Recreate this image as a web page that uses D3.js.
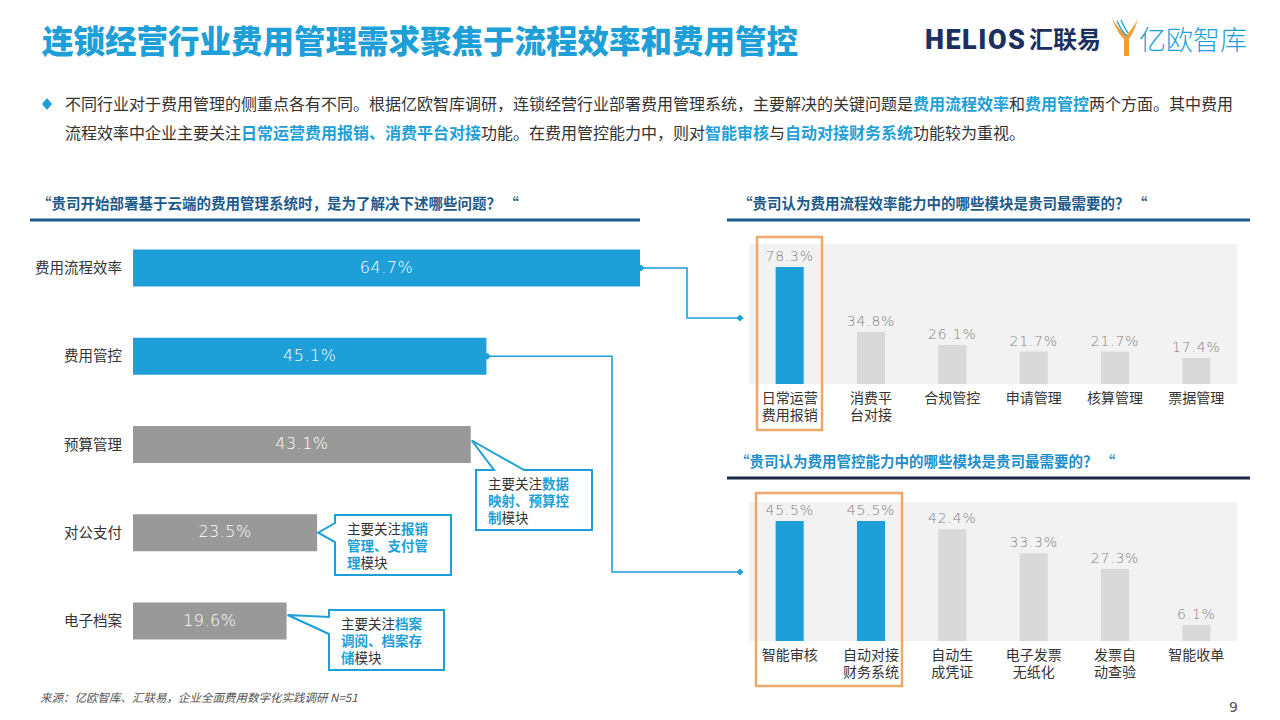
<!DOCTYPE html>
<meta charset="utf-8">
<script src="https://cdn.jsdelivr.net/npm/d3@7/dist/d3.min.js"></script>
<style>
body { margin: 0; background: #fff; }
text { font-family: "Noto Sans CJK SC", "Noto Sans", sans-serif; }
.num { font-family: "DejaVu Sans", "Open Sans", sans-serif; }
</style>
<body>
<script>

// main question: which problems
var mainCats = ["费用流程效率", "费用管控", "预算管理", "对公支付", "电子档案"];
var mainVals = [64.7, 45.1, 43.1, 23.5, 19.6];

// process efficiency modules
var effCats = [["日常运营", "费用报销"], ["消费平", "台对接"], ["合规管控"], ["申请管理"], ["核算管理"], ["票据管理"]];
var effVals = [78.3, 34.8, 26.1, 21.7, 21.7, 17.4];

// cost control modules
var ctrlCats = [["智能审核"], ["自动对接", "财务系统"], ["自动生", "成凭证"], ["电子发票", "无纸化"], ["发票自", "动查验"], ["智能收单"]];
var ctrlVals = [45.5, 45.5, 42.4, 33.3, 27.3, 6.1];

// callout notes: [text, highlighted] runs per line
var notes = [
  {bar: 2, lines: [[["主要关注", 0], ["数据", 1]], [["映射、预算控", 1]], [["制", 1], ["模块", 0]]]},
  {bar: 3, lines: [[["主要关注", 0], ["报销", 1]], [["管理、支付管", 1]], [["理", 1], ["模块", 0]]]},
  {bar: 4, lines: [[["主要关注", 0], ["档案", 1]], [["调阅、档案存", 1]], [["储", 1], ["模块", 0]]]}
];

var blue = "#1e9fd8", gray = "#999999", lightGray = "#d9d9d9", navy = "#1d5a8a";

var svg = d3.select("body").append("svg")
    .attr("width", 1280)
    .attr("height", 720);

// title
svg.append("text")
    .attr("x", 42).attr("y", 53)
    .style("font-size", "31.5px").style("font-weight", 900)
    .style("fill", "#1e9fd8")
    .text("连锁经营行业费用管理需求聚焦于流程效率和费用管控");

// logos
svg.append("text").attr("x", 925).attr("y", 49)
    .style("font-family", "Roboto, sans-serif").style("font-size", "27px").style("font-weight", 900)
    .style("fill", "#1c2f5e").attr("textLength", 100).text("HELIOS");
svg.append("text").attr("x", 1029).attr("y", 48)
    .style("font-size", "24px").style("font-weight", 700)
    .style("fill", "#1c2f5e").text("汇联易");
var lg = svg.append("g");
lg.append("path").attr("d", "M1112,19 Q1118,34 1124,39 L1124,56 L1129,56 L1129,39 Q1134,32 1138,19 Q1131,31 1126,35 Q1120,30 1112,19 Z")
    .style("fill", "#f0a030");
lg.append("path").attr("d", "M1117,21 Q1122,32 1127,36 M1121,20 Q1125,29 1128,33")
    .style("fill", "none").style("stroke", "#2aa6d8").style("stroke-width", 1.5);
svg.append("text").attr("x", 1139).attr("y", 50)
    .style("font-size", "27px").style("font-weight", 300)
    .style("fill", "#1e9fd8").text("亿欧智库");

// intro paragraph
svg.append("path")
    .attr("d", "M47,98 L52,104 L47,110 L42,104 Z")
    .style("fill", blue);

function runs(sel, parts, x, y, size, color) {
  var t = sel.append("text").attr("x", x).attr("y", y)
      .style("font-size", size + "px").style("fill", color);
  parts.forEach(function(p) {
    t.append("tspan").text(p[0])
        .style("font-weight", p[1] ? 700 : 400)
        .style("fill", p[1] ? blue : color);
  });
  return t;
}

runs(svg, [["不同行业对于费用管理的侧重点各有不同。根据亿欧智库调研，连锁经营行业部署费用管理系统，主要解决的关键问题是", 0],
  ["费用流程效率", 1], ["和", 0], ["费用管控", 1], ["两个方面。其中费用", 0]], 65, 110, 16, "#333");
runs(svg, [["流程效率中企业主要关注", 0], ["日常运营费用报销、消费平台对接", 1], ["功能。在费用管控能力中，则对", 0],
  ["智能审核", 1], ["与", 0], ["自动对接财务系统", 1], ["功能较为重视。", 0]], 65, 139, 16, "#333");

// section headers
function header(x, y, x1, x2, ly, txt, color, lineColor) {
  svg.append("text").attr("x", x).attr("y", y)
      .style("font-size", "14.5px").style("font-weight", 700)
      .style("fill", color).text(txt);
  svg.append("line").attr("x1", x1).attr("x2", x2).attr("y1", ly).attr("y2", ly)
      .style("stroke", lineColor).style("stroke-width", 3);
}
header(37, 209, 30, 640, 220, "“贵司开始部署基于云端的费用管理系统时，是为了解决下述哪些问题？ “", navy, navy);
header(738, 209, 727, 1250, 220, "“贵司认为费用流程效率能力中的哪些模块是贵司最需要的？ “", navy, navy);
header(735, 467, 727, 1250, 478, "“贵司认为费用管控能力中的哪些模块是贵司最需要的？ “", "#1e8fcc", "#1b2a4a");

// left horizontal bars
var x = d3.scaleLinear().domain([0, 64.7]).range([133, 640]);
var y = d3.scalePoint().domain(mainCats).range([268, 621]);
var bh = 37;

var rows = svg.append("g").selectAll("g")
    .data(mainCats).enter().append("g");

rows.append("rect")
    .attr("x", x(0))
    .attr("y", function(d) { return y(d) - bh / 2; })
    .attr("width", function(d, i) { return x(mainVals[i]) - x(0); })
    .attr("height", bh)
    .style("fill", function(d, i) { return i < 2 ? blue : gray; });

rows.append("text")
    .attr("x", 122).attr("y", function(d) { return y(d); })
    .attr("dy", "0.35em").attr("text-anchor", "end")
    .style("font-size", "14.5px").style("fill", "#333")
    .text(function(d) { return d; });

rows.append("text").attr("class", "num")
    .attr("x", function(d, i) { return (x(0) + x(mainVals[i])) / 2; })
    .attr("y", function(d) { return y(d) - 1; })
    .attr("dy", "0.35em").attr("text-anchor", "middle")
    .style("font-size", "16px").style("font-weight", 200)
    .style("letter-spacing", "0.5px").style("fill", "#fff")
    .text(function(d, i) { return mainVals[i].toFixed(1) + "%"; });

// connectors from the blue bars to the right panels
function diamond(cx, cy, r) {
  return "M" + cx + "," + (cy - r) + "L" + (cx + r) + "," + cy + "L" + cx + "," + (cy + r) + "L" + (cx - r) + "," + cy + "Z";
}
var conn = [{i: 0, mx: 687, ty: 318}, {i: 1, mx: 612, ty: 572}];
conn.forEach(function(c) {
  var sx = x(mainVals[c.i]), sy = y(mainCats[c.i]);
  svg.append("path")
      .attr("d", "M" + sx + "," + sy + "H" + c.mx + "V" + c.ty + "H740")
      .style("fill", "none").style("stroke", blue).style("stroke-width", 1.6);
  svg.append("path").attr("d", diamond(sx + 1, sy, 3.5)).style("fill", blue);
  svg.append("path").attr("d", diamond(740, c.ty, 3.5)).style("fill", blue);
});

// callouts
var boxes = [
  {x: 476, y: 470, w: 116, h: 60, side: "top", a: 494, b: 524},
  {x: 335, y: 515, w: 116, h: 60, side: "left", a: 523, b: 542},
  {x: 329, y: 610, w: 115, h: 60, side: "left", a: 617, b: 634}
];
notes.forEach(function(n, k) {
  var b = boxes[k];
  var tx = x(mainVals[n.bar]) + 1, ty = y(mainCats[n.bar]) + (n.bar === 2 ? -4 : (n.bar === 4 ? -6 : 0));
  var d;
  if (b.side === "top") {
    d = "M" + b.x + "," + b.y + "H" + b.a + "L" + tx + "," + ty + "L" + b.b + "," + b.y +
        "H" + (b.x + b.w) + "V" + (b.y + b.h) + "H" + b.x + "Z";
  } else {
    d = "M" + b.x + "," + b.y + "H" + (b.x + b.w) + "V" + (b.y + b.h) + "H" + b.x +
        "V" + b.b + "L" + tx + "," + ty + "L" + b.x + "," + b.a + "Z";
  }
  svg.append("path").attr("d", d)
      .style("fill", "#fff").style("stroke", blue).style("stroke-width", 2);
  n.lines.forEach(function(ln, j) {
    runs(svg, ln, b.x + 12, b.y + 19 + j * 17, 13.5, "#333");
  });
});

// column panels
function panel(cats, vals, top, base, hi, box) {
  var g = svg.append("g");
  var bx = d3.scaleBand().domain(d3.range(cats.length))
      .range([749, 1237]).paddingInner(0.655).paddingOuter(0.3275);
  var by = d3.scaleLinear().domain([0, vals[0]]).range([base, hi]);

  g.append("rect").attr("x", 749).attr("y", top)
      .attr("width", 488).attr("height", base - top)
      .style("fill", "#f2f2f2");

  g.selectAll("rect.bar").data(vals).enter().append("rect")
      .attr("class", "bar")
      .attr("x", function(d, i) { return bx(i); })
      .attr("y", function(d) { return by(d); })
      .attr("width", bx.bandwidth())
      .attr("height", function(d) { return base - by(d); })
      .style("fill", function(d, i) { return i < box.n ? blue : lightGray; });

  g.selectAll("text.val").data(vals).enter().append("text")
      .attr("class", "num")
      .attr("x", function(d, i) { return bx(i) + bx.bandwidth() / 2; })
      .attr("y", function(d) { return by(d) - 6; })
      .attr("text-anchor", "middle")
      .style("font-size", "14px").style("font-weight", 200)
      .style("letter-spacing", "0.8px").style("fill", "#7f7f7f")
      .text(function(d) { return d.toFixed(1) + "%"; });

  cats.forEach(function(c, i) {
    c.forEach(function(s, j) {
      g.append("text")
          .attr("x", bx(i) + bx.bandwidth() / 2)
          .attr("y", base + 19 + j * 17)
          .attr("text-anchor", "middle")
          .style("font-size", "14px").style("fill", "#333")
          .text(s);
    });
  });

  g.append("rect").attr("x", box.x).attr("y", box.y)
      .attr("width", box.w).attr("height", box.h)
      .style("fill", "none").style("stroke", "#f0a868").style("stroke-width", 2.5);
}

panel(effCats, effVals, 244, 384, 267, {n: 1, x: 757, y: 237, w: 65, h: 193});
panel(ctrlCats, ctrlVals, 502, 641, 521, {n: 2, x: 756, y: 493, w: 146, h: 193});

// footer
svg.append("text").attr("x", 40).attr("y", 702)
    .style("font-size", "11.5px").style("font-style", "italic").style("fill", "#555")
    .text("来源：亿欧智库、汇联易，企业全面费用数字化实践调研 N=51");
svg.append("text").attr("class", "num").attr("x", 1238).attr("y", 712)
    .attr("text-anchor", "end")
    .style("font-size", "14px").style("fill", "#555")
    .text("9");

</script>
</body>
</html>
